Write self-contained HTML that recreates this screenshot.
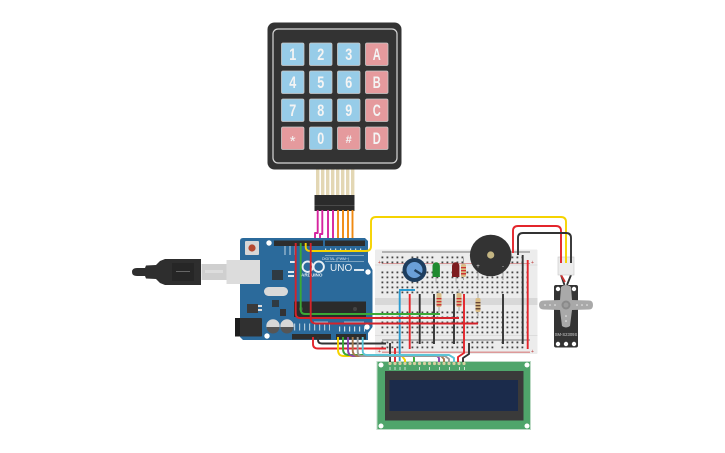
<!DOCTYPE html>
<html><head><meta charset="utf-8"><style>
html,body{margin:0;padding:0;background:#fff;width:725px;height:453px;overflow:hidden}
svg{display:block;filter:blur(.3px)}
text{font-family:"Liberation Sans",sans-serif}
.w{fill:none;stroke-width:1.9;stroke-linejoin:round;stroke-linecap:butt}
</style></head><body>
<svg width="725" height="453" viewBox="0 0 725 453" xmlns="http://www.w3.org/2000/svg">
<defs>
<pattern id="h" x="380" y="0" width="5" height="5" patternUnits="userSpaceOnUse"><rect x="1.5" y="1.5" width="1.8" height="1.8" fill="#444"/></pattern>
<pattern id="r" x="380" y="0" width="30" height="5" patternUnits="userSpaceOnUse"><rect x="1.5" y="1.5" width="1.8" height="1.8" fill="#444"/><rect x="6.5" y="1.5" width="1.8" height="1.8" fill="#444"/><rect x="11.5" y="1.5" width="1.8" height="1.8" fill="#444"/><rect x="16.5" y="1.5" width="1.8" height="1.8" fill="#444"/><rect x="21.5" y="1.5" width="1.8" height="1.8" fill="#444"/></pattern>
</defs>

<!-- Keypad ribbon -->
<g fill="#e3d7b4"><rect x="316" y="168" width="3.4" height="28"/><rect x="321" y="168" width="3.4" height="28"/><rect x="326" y="168" width="3.4" height="28"/><rect x="331" y="168" width="3.4" height="28"/><rect x="336" y="168" width="3.4" height="28"/><rect x="341" y="168" width="3.4" height="28"/><rect x="346" y="168" width="3.4" height="28"/><rect x="351" y="168" width="3.4" height="28"/></g>
<!-- Keypad -->
<rect x="267.5" y="22.5" width="134" height="147" rx="7" fill="#333"/>
<rect x="273" y="29" width="124" height="134" rx="5" fill="none" stroke="#d8d8d8" stroke-width="1.2"/>
<g stroke="#c9c9c9" stroke-width="0.8">
<rect x="281.5" y="43" width="22.5" height="22.5" rx="1.5" fill="#97cce8"/><rect x="309.5" y="43" width="22.5" height="22.5" rx="1.5" fill="#97cce8"/><rect x="337.5" y="43" width="22.5" height="22.5" rx="1.5" fill="#97cce8"/><rect x="365.5" y="43" width="22.5" height="22.5" rx="1.5" fill="#e59a9d"/>
<rect x="281.5" y="71" width="22.5" height="22.5" rx="1.5" fill="#97cce8"/><rect x="309.5" y="71" width="22.5" height="22.5" rx="1.5" fill="#97cce8"/><rect x="337.5" y="71" width="22.5" height="22.5" rx="1.5" fill="#97cce8"/><rect x="365.5" y="71" width="22.5" height="22.5" rx="1.5" fill="#e59a9d"/>
<rect x="281.5" y="99" width="22.5" height="22.5" rx="1.5" fill="#97cce8"/><rect x="309.5" y="99" width="22.5" height="22.5" rx="1.5" fill="#97cce8"/><rect x="337.5" y="99" width="22.5" height="22.5" rx="1.5" fill="#97cce8"/><rect x="365.5" y="99" width="22.5" height="22.5" rx="1.5" fill="#e59a9d"/>
<rect x="281.5" y="127" width="22.5" height="22.5" rx="1.5" fill="#e59a9d"/><rect x="309.5" y="127" width="22.5" height="22.5" rx="1.5" fill="#97cce8"/><rect x="337.5" y="127" width="22.5" height="22.5" rx="1.5" fill="#e59a9d"/><rect x="365.5" y="127" width="22.5" height="22.5" rx="1.5" fill="#e59a9d"/>
</g>
<g fill="#f4f4f4" font-size="16.5" font-weight="bold" text-anchor="middle" lengthAdjust="spacingAndGlyphs">
<text x="292.7" y="60" textLength="7" lengthAdjust="spacingAndGlyphs">1</text><text x="320.7" y="60" textLength="7" lengthAdjust="spacingAndGlyphs">2</text><text x="348.7" y="60" textLength="7" lengthAdjust="spacingAndGlyphs">3</text><text x="376.7" y="60" textLength="8" lengthAdjust="spacingAndGlyphs">A</text>
<text x="292.7" y="88" textLength="7" lengthAdjust="spacingAndGlyphs">4</text><text x="320.7" y="88" textLength="7" lengthAdjust="spacingAndGlyphs">5</text><text x="348.7" y="88" textLength="7" lengthAdjust="spacingAndGlyphs">6</text><text x="376.7" y="88" textLength="8" lengthAdjust="spacingAndGlyphs">B</text>
<text x="292.7" y="116" textLength="7" lengthAdjust="spacingAndGlyphs">7</text><text x="320.7" y="116" textLength="7" lengthAdjust="spacingAndGlyphs">8</text><text x="348.7" y="116" textLength="7" lengthAdjust="spacingAndGlyphs">9</text><text x="376.7" y="116" textLength="8" lengthAdjust="spacingAndGlyphs">C</text>
<text x="292.7" y="146" font-size="15" font-weight="normal">*</text><text x="320.7" y="144" textLength="7" lengthAdjust="spacingAndGlyphs">0</text><text x="348.7" y="143" font-size="11">#</text><text x="376.7" y="144" textLength="8" lengthAdjust="spacingAndGlyphs">D</text>
</g>
<!-- Connector -->
<rect x="314.5" y="195" width="40" height="16" fill="#2b2b2b"/>
<rect x="314.5" y="205" width="40" height="1" fill="#4a4a4a"/>

<!-- USB -->
<path d="M132,272 Q132,268 137,268 L145,268 L146,265.5 L156,265 L160,261 L165,259 L201,259 L201,285 L165,285 L160,283 L156,279 L146,278.5 L145,276 L137,276 Q132,276 132,272Z" fill="#2e2e2e"/>
<rect x="172" y="263" width="22" height="18" fill="#262626"/>
<rect x="176" y="271" width="14" height="1" fill="#666"/>
<rect x="201.5" y="264" width="25" height="16" fill="#cfcfcf"/>
<rect x="205" y="270" width="18" height="3" fill="#ddd"/>
<!-- Arduino -->
<path d="M240,241 Q240,238 243,238 L365,238 L368,241 L368,262 L372.5,270 L372.5,327 L368,333 L368,340 L243,340 L240,337Z" fill="#2b6a9b"/>
<rect x="226.5" y="260" width="33.5" height="24" fill="#dcdcdc"/>
<rect x="245" y="241" width="14" height="14" rx="1" fill="#d6d6d6"/><circle cx="252" cy="248" r="3.6" fill="#b5482f"/>
<circle cx="269" cy="243" r="2.7" fill="#fff"/><circle cx="368" cy="272" r="2.7" fill="#fff"/><circle cx="367" cy="327" r="2.7" fill="#fff"/><circle cx="267" cy="336" r="2.7" fill="#fff"/>
<rect x="274" y="240.5" width="49" height="5.5" fill="#2d2d2d"/><rect x="325" y="240.5" width="40" height="5.5" fill="#2d2d2d"/>
<rect x="292" y="334" width="39" height="5.5" fill="#2d2d2d"/><rect x="336" y="334" width="30" height="5.5" fill="#2d2d2d"/>
<rect x="272" y="270" width="11" height="10" fill="#2f3a42"/>
<rect x="264" y="287" width="24" height="9" rx="4.5" fill="#d9d9d9"/>
<rect x="294" y="301.5" width="72" height="15.5" fill="#2b2b2b"/>
<circle cx="301" cy="309" r="2" fill="#444"/><circle cx="355" cy="309" r="2" fill="#444"/>
<rect x="272" y="300" width="7" height="7" fill="#2f3a42"/>
<rect x="247" y="304" width="11" height="9" fill="#3a3a3a"/><rect x="258" y="305" width="4" height="2" fill="#ddd"/><rect x="258" y="309" width="4" height="2" fill="#ddd"/>
<rect x="280" y="309" width="6" height="7" fill="#333"/>
<rect x="235" y="318" width="27" height="18.5" rx="1" fill="#303030"/><rect x="235" y="318" width="5" height="18.5" fill="#1d1d1d"/>
<circle cx="273" cy="326" r="6.7" fill="#d7d7d7"/><path d="M266.5,327 h13 a6.5,6.5 0 0 1 -13,0" fill="#555"/>
<circle cx="287" cy="326" r="6.7" fill="#d7d7d7"/><path d="M280.5,327 h13 a6.5,6.5 0 0 1 -13,0" fill="#555"/>
<g fill="none" stroke="#e8f0f5" stroke-width="1.9"><circle cx="307.7" cy="266.7" r="5.2"/><circle cx="318.7" cy="266.7" r="5.2"/></g>
<text x="301" y="276.5" font-size="4.6" font-weight="bold" fill="#e8f0f5">ARDUINO</text>
<text x="330" y="271" font-size="10" fill="#e8f0f5">UNO</text>
<text x="322" y="260" font-size="3.5" fill="#dde8ef">DIGITAL (PWM~)</text>
<g fill="#dce8f0"><rect x="290" y="261" width="6" height="2"/><rect x="288" y="271" width="6" height="2"/><rect x="288" y="275" width="6" height="2"/><rect x="354" y="269" width="10" height="2"/></g>
<g fill="none" stroke="#cfdfe9"><path d="M325,250H365" stroke-width="3" stroke-dasharray="1.2 3.8"/><path d="M325,255.5H364" stroke-width=".6"/><path d="M325,261.5H364" stroke-width=".6"/><path d="M339,329H365" stroke-width="5" stroke-dasharray="1.2 3.8"/><path d="M294,327H330" stroke-width="7" stroke-dasharray="1.2 3.8" opacity=".8"/><path d="M314,322H328M344,322H364" stroke-width="1" opacity=".7"/><path d="M285,246V255M290,246V255M295,246V255" stroke-width=".9"/></g>

<!-- Breadboard -->
<rect x="375" y="249.5" width="162.5" height="104.5" rx="1" fill="#ececec"/>
<rect x="375" y="298" width="162.5" height="7" fill="#d8d8d8"/>
<rect x="375" y="264.5" width="162.5" height="1" fill="#dcdcdc"/><rect x="375" y="335" width="162.5" height="1" fill="#dcdcdc"/>
<rect x="382" y="251.5" width="148" height="1" fill="#777"/>
<rect x="382" y="263" width="148" height="1" fill="#d99"/>
<rect x="382" y="339.5" width="148" height="1" fill="#777"/>
<rect x="382" y="351.5" width="148" height="1.5" fill="#d99"/>
<rect x="380" y="254" width="150" height="10" fill="url(#r)"/>
<rect x="380" y="269" width="150" height="25" fill="url(#h)"/>
<rect x="380" y="309" width="150" height="25" fill="url(#h)"/>
<rect x="380" y="341" width="150" height="10" fill="url(#r)"/>
<g fill="#b33" font-size="5" ><text x="378" y="264">+</text><text x="531" y="264">+</text><text x="378" y="353">+</text><text x="531" y="353">+</text></g>

<!-- Board wires -->
<g class="w">
<path stroke="#e3252b" d="M409.7,294V349"/>
<path stroke="#333" d="M419.7,294V344M434,294V344M454,294V344M503,294V344"/>
<path stroke="#333" d="M522.7,255V344"/>
<path stroke="#e3252b" d="M527.7,260V349"/>
<path stroke="#2a9bd0" d="M399.7,291V368M399,290H415"/>
</g>

<!-- Pot, LEDs, resistors -->
<circle cx="414.5" cy="270" r="12" fill="#1d3d5e"/><circle cx="414.5" cy="270" r="8" fill="#6a9fd8"/><path d="M414.5,270L424,276" stroke="#1d3d5e" stroke-width="2.5"/>
<path d="M432.5,277V266a3.7,3.7 0 0 1 7.4,0V277Z" fill="#1f8a2f"/>
<path d="M452,277V266a3.7,3.7 0 0 1 7.4,0V277Z" fill="#7d1c1f"/>
<g stroke="#999" stroke-width="0.8"><path d="M463.5,258V280M439,290V312M459,289V311M478,294V316M436,277V283M456,277V283"/></g>
<g>
<rect x="461" y="264" width="5" height="13" rx="1.5" fill="#d8bb85"/><rect x="461" y="267" width="5" height="1.3" fill="#c33"/><rect x="461" y="270" width="5" height="1.3" fill="#c33"/><rect x="461" y="273" width="5" height="1.5" fill="#c33"/>
<rect x="436.5" y="293" width="5" height="14" rx="1.5" fill="#d8bb85"/><rect x="436.5" y="298" width="5" height="1.3" fill="#c33"/><rect x="436.5" y="301" width="5" height="1.3" fill="#c33"/><rect x="436.5" y="304" width="5" height="1.5" fill="#c33"/>
<rect x="456.5" y="293" width="5" height="14" rx="1.5" fill="#d8bb85"/><rect x="456.5" y="298" width="5" height="1.3" fill="#c33"/><rect x="456.5" y="301" width="5" height="1.3" fill="#c33"/><rect x="456.5" y="304" width="5" height="1.5" fill="#c33"/>
<rect x="475.5" y="298" width="5" height="14" rx="1.5" fill="#d8bb85"/><rect x="475.5" y="302" width="5" height="1.3" fill="#643"/><rect x="475.5" y="305" width="5" height="1.3" fill="#643"/><rect x="475.5" y="308" width="5" height="1.5" fill="#643"/>
</g>
<!-- Buzzer -->
<path d="M478,270V280M503,270V280" stroke="#999" stroke-width="0.8"/>
<circle cx="490.7" cy="255.5" r="20.8" fill="#333"/><circle cx="490.7" cy="255" r="3.6" fill="#c4b582"/>
<text x="478" y="268" font-size="6" fill="#ddd" text-anchor="middle">+</text><text x="503" y="268" font-size="6" fill="#ccc" text-anchor="middle">-</text>

<!-- LCD -->
<rect x="376.5" y="361" width="154.5" height="69" fill="#4fa56b"/>
<rect x="377" y="361.5" width="153.5" height="68" fill="none" stroke="#d8e8dc" stroke-width="0.8"/>
<circle cx="381" cy="365" r="2.5" fill="#fff"/><circle cx="527" cy="365" r="2.5" fill="#fff"/><circle cx="381" cy="426" r="2.5" fill="#fff"/><circle cx="527" cy="426" r="2.5" fill="#fff"/>
<rect x="385" y="371" width="138.5" height="49.5" fill="#3a3a3a"/>
<rect x="389.5" y="380" width="128.5" height="31" fill="#1b2b4b"/>
<g fill="#d7cfa0"><circle cx="390" cy="363.5" r="1.6"/><circle cx="395" cy="363.5" r="1.6"/><circle cx="400" cy="363.5" r="1.6"/><circle cx="405" cy="363.5" r="1.6"/><circle cx="410" cy="363.5" r="1.6"/><circle cx="414.5" cy="363.5" r="1.6"/><circle cx="419.5" cy="363.5" r="1.6"/><circle cx="424.5" cy="363.5" r="1.6"/><circle cx="429.5" cy="363.5" r="1.6"/><circle cx="434.5" cy="363.5" r="1.6"/><circle cx="439" cy="363.5" r="1.6"/><circle cx="444" cy="363.5" r="1.6"/><circle cx="449" cy="363.5" r="1.6"/><circle cx="454" cy="363.5" r="1.6"/><circle cx="459" cy="363.5" r="1.6"/><circle cx="464" cy="363.5" r="1.6"/></g>
<g fill="#cfe3d4"><rect x="389.5" y="367" width="1" height="3"/><rect x="394.5" y="367" width="1" height="3"/><rect x="399.5" y="367" width="1" height="3"/><rect x="404.5" y="367" width="1" height="3"/><rect x="419" y="367" width="1" height="3"/><rect x="429" y="367" width="1" height="3"/><rect x="439" y="367" width="1" height="3"/><rect x="449" y="367" width="1" height="3"/><rect x="459" y="367" width="1" height="3"/><rect x="464" y="367" width="1" height="3"/></g>

<!-- Servo -->
<rect x="554" y="285" width="24" height="62.5" rx="2" fill="#333"/>
<path d="M539,305 Q539,300.5 544,300.5 L560,300 L561,287 Q566,283 571,287 L572,300 L589,300.5 Q593,300.5 593,305 Q593,309.5 589,309.5 L572,310 L570,326 Q566,329 562,326 L560,310 L544,309.5 Q539,309.5 539,305Z" fill="#a9a9a9"/>
<circle cx="566" cy="305" r="4.5" fill="#8a8a8a"/><circle cx="566" cy="305" r="2.5" fill="#9d9d9d"/>
<g fill="#eee"><circle cx="545" cy="305" r=".8"/><circle cx="550" cy="305" r=".8"/><circle cx="555" cy="305" r=".8"/><circle cx="577" cy="305" r=".8"/><circle cx="582" cy="305" r=".8"/><circle cx="587" cy="305" r=".8"/><circle cx="566" cy="316" r=".8"/><circle cx="566" cy="321" r=".8"/></g>
<g fill="#fff"><circle cx="558" cy="289" r="2.2"/><circle cx="574" cy="289" r="2.2"/><circle cx="558" cy="344" r="2.2"/><circle cx="566" cy="344" r="2.2"/><circle cx="574" cy="344" r="2.2"/></g>
<text x="566" y="336" font-size="4.2" fill="#ccc" text-anchor="middle">SM-S2309S</text>
<path d="M561,275L564.5,285M571,275L567,285" class="w" stroke="#333"/><path d="M561,275L565,282" class="w" stroke="#c33"/>
<rect x="558" y="257" width="16" height="18" fill="#ececec" stroke="#c8c8c8" stroke-width=".6"/>

<!-- Arduino & long wires -->
<g class="w">
<path stroke="#f5d300" d="M305.7,243V247Q305.7,251 310,251H366Q371,251 371,246V222Q371,217 376,217H561Q566,217 566,222V263"/>
<path stroke="#e3252b" d="M513,253V231Q513,226 518,226H556Q561,226 561,231V263"/>
<path stroke="#333" d="M518,255V238Q518,233 523,233H566Q571,233 571,238V263"/>
<path stroke="#3aa935" d="M300.7,243V309Q300.7,314 305,314H440"/>
<path stroke="#d4232b" d="M295.7,243V313Q295.7,318 300,318H459"/>
<path stroke="#d4232b" d="M310.7,243V318Q310.7,323.5 316,323.5H478"/>
<path stroke="#e3252b" d="M464,294V353L458,357V362"/>
<path stroke="#333" d="M469,343V354L463,358V362"/>
<path stroke="#e3252b" d="M313,337V344Q313,348.5 318,348.5H386"/>
<path stroke="#333" d="M318,337V340Q318,343.5 322,343.5H386"/>
<path stroke="#333" d="M390,343V362"/>
<path stroke="#e3252b" d="M395,348V362"/>
<path stroke="#f5d300" d="M338,337V350Q338,356 344,356H402L405,360V362"/>
<path stroke="#3aa935" d="M343,337V349Q343,355 349,355H411Q414,355 414,358V362"/>
<path stroke="#8e44ad" d="M348,337V350Q348,356 354,356H437L439,358V362"/>
<path stroke="#a5794f" d="M352.7,337V350Q352.7,356 358,356H441L444,359V362"/>
<path stroke="#999" d="M357.7,337V351Q357.7,356 362,356H445L449,359V362"/>
<path stroke="#5bc4d6" d="M362.7,337V351Q362.7,355 367,355H449L454,358V362"/>
<path stroke="#d6249f" d="M333,210V238M328,210V238M322.3,210V234H320V238M317.7,210V233H315V238"/>
<path stroke="#f08a12" d="M338,210V238M343,210V238M348,210V238M352.5,210V238"/>
</g>
</svg>
</body></html>
